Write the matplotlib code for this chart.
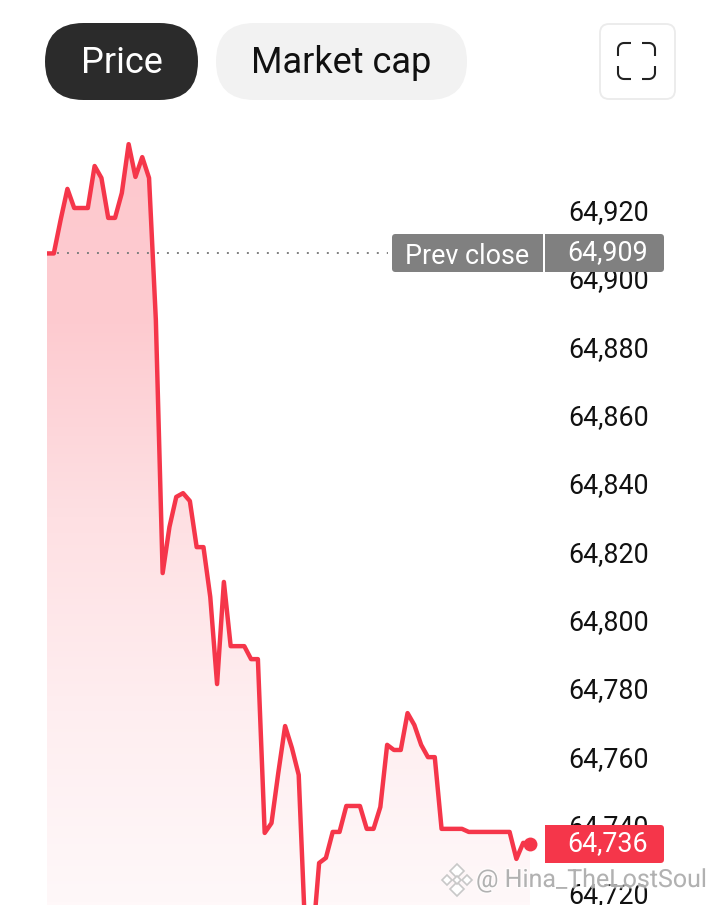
import numpy as np
import matplotlib.pyplot as plt
import matplotlib.patheffects as pe
from matplotlib.colors import LinearSegmentedColormap
from matplotlib.patches import FancyBboxPatch, Rectangle
from matplotlib.ticker import FuncFormatter
from matplotlib.transforms import ScaledTranslation

plt.rcParams['font.family'] = ['Roboto', 'DejaVu Sans']

# prices, one every few minutes
prices = [64908.6, 64908.6, 64918.4, 64927.5, 64921.9, 64921.9, 64921.9, 64934.2,
          64930.7, 64919.0, 64919.0, 64926.3, 64940.6, 64931.0, 64936.8, 64930.7,
          64889.1, 64815.0, 64828.5, 64837.3, 64838.4, 64836.1, 64822.6, 64822.6,
          64808.0, 64782.5, 64812.4, 64793.6, 64793.6, 64793.6, 64789.8, 64789.8,
          64738.9, 64741.8, 64756.5, 64770.2, 64763.8, 64755.9, 64707.5, 64706.0,
          64730.1, 64731.6, 64739.2, 64739.2, 64746.8, 64746.8, 64746.8, 64740.1,
          64740.1, 64746.5, 64764.7, 64763.2, 64763.2, 64774.0, 64770.5, 64764.7,
          64761.1, 64761.1, 64740.1, 64740.1, 64740.1, 64740.1, 64739.2, 64739.2,
          64739.2, 64739.2, 64739.2, 64739.2, 64739.2, 64731.3, 64736.0, 64735.7]
price_ticks = [64920, 64900, 64880, 64860, 64840, 64820, 64800, 64780, 64760, 64740, 64720]
prev_close = 64908.6
prev_label = '64,909'
last_label = '64,736'
tabs = ['Price', 'Market cap']

RED = '#F5364A'
GREY = '#808080'
W, H = 712, 905

fig = plt.figure(figsize=(W / 100, H / 100), dpi=100, facecolor='white')

# chart area: x from 47 to 530 px, y from 130 to 905 px
ax = fig.add_axes([47 / W, 0, (530 - 47) / W, (H - 130) / H])
ax.patch.set_alpha(0)
y_top = 64920 + (214.5 - 130) / 3.415
y_bot = 64920 - (905 - 214.5) / 3.415
x = np.arange(len(prices))

cmap = LinearSegmentedColormap.from_list('fade', ['#FDC8CE', '#FDCBD0', '#FEE0E3', '#FEEEF0', '#FFF8F9'])
grad = np.linspace(0, 1, 256).reshape(-1, 1)
img = ax.imshow(grad, extent=[0, len(prices) - 1, y_bot, y_top], aspect='auto', cmap=cmap, zorder=1)
poly = ax.fill_between(x, prices, y_bot, color='none', lw=0)
img.set_clip_path(poly.get_paths()[0], transform=ax.transData)

ax.plot([0, 50.1], [prev_close, prev_close], color=GREY, lw=1.4, zorder=2,
        dashes=(1.0, 4.14), clip_on=False)
ax.plot(x, prices, color=RED, lw=3.2, solid_joinstyle='round', zorder=3)
ax.plot(x[-1], prices[-1], 'o', color=RED, ms=10, mew=0, zorder=4, clip_on=False)

ax.set_xlim(0, len(prices) - 1)
ax.set_ylim(y_bot, y_top)
ax.set_xticks([])
ax.yaxis.tick_right()
ax.set_yticks(price_ticks)
ax.yaxis.set_major_formatter(FuncFormatter(lambda v, p: f'{v:,.0f}'))
ax.tick_params(axis='y', length=0, pad=27.4, labelsize=19.4, labelcolor='#111111')
# labels sit a little above the level they mark
up = ScaledTranslation(0, 4.8 / 100, fig.dpi_scale_trans)
for lab in ax.get_yticklabels():
    lab.set_transform(lab.get_transform() + up)
for s in ax.spines.values():
    s.set_visible(False)

# overlay in pixels for buttons and badges
ui = fig.add_axes([0, 0, 1, 1])
ui.set_xlim(0, W)
ui.set_ylim(H, 0)
ui.axis('off')


def round_box(x0, y0, x1, y1, r, **kw):
    box = FancyBboxPatch((x0 + r, y0 + r), x1 - x0 - 2 * r, y1 - y0 - 2 * r,
                         boxstyle=f'round,pad={r},rounding_size={r}', **kw)
    ui.add_patch(box)


round_box(45, 23, 198, 100, 38.5, fc='#2B2B2B', ec='none')
round_box(216, 23, 467, 100, 38.5, fc='#F2F2F2', ec='none')
ui.text(121.5, 63, tabs[0], color='white', fontsize=26, ha='center', va='center')
ui.text(341.5, 63, tabs[1], color='#111111', fontsize=26, ha='center', va='center')

# fullscreen icon
round_box(600, 24, 675, 99, 9, fc='white', ec='#EBEBEB', lw=1.3)
t = np.linspace(0, np.pi / 2, 12)
for cx, cy, sx, sy in [(618, 43, 1, 1), (655, 43, -1, 1), (618, 79, 1, -1), (655, 79, -1, -1)]:
    arc_x = cx + sx * 6 * (1 - np.sin(t))
    arc_y = cy + sy * 6 * (1 - np.cos(t))
    px = np.r_[cx + sx * 13, arc_x, cx]
    py = np.r_[cy, arc_y, cy + sy * 13]
    ui.plot(px, py, color='#222222', lw=1.5, solid_capstyle='butt')

# prev close badge
round_box(392, 234, 664, 272, 3.5, fc=GREY, ec='none', zorder=5)
ui.add_patch(Rectangle((543, 234), 2, 38, fc='white', ec='none', zorder=6))
ui.text(467, 256.5, 'Prev close', color='white', fontsize=19.4, ha='center', va='center', zorder=7)
ui.text(608, 252.5, prev_label, color='white', fontsize=19.4, ha='center', va='center', zorder=7)

# last price badge
round_box(545, 825, 664, 863, 3.5, fc=RED, ec='none', zorder=5)
ui.add_patch(Rectangle((545, 825), 10, 38, fc=RED, ec='none', zorder=5))
ui.text(608, 843.5, last_label, color='white', fontsize=19.4, ha='center', va='center', zorder=7)

# watermark
halo = [pe.withStroke(linewidth=2, foreground='white', alpha=0.6)]
ui.text(476, 880, '@ Hina_TheLostSoul', color='#A8A8A8', fontsize=18, alpha=0.85,
        ha='left', va='center', zorder=8, path_effects=halo)
for dx, dy, ms in [(0, -9, 7), (0, 9, 7), (-10, 0, 5), (10, 0, 5), (0, 0, 4)]:
    ui.plot(457 + dx, 880 + dy, 'D', ms=ms, mfc='white', mec='#C8C8C8', mew=1.2, zorder=8)

fig.savefig('out.png', dpi=100)
